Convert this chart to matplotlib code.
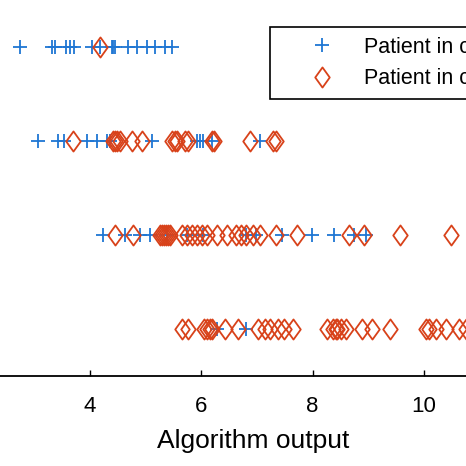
import matplotlib
matplotlib.use("Agg")
import matplotlib.pyplot as plt
from matplotlib.path import Path

plt.rcParams['font.family'] = ['Liberation Sans', 'DejaVu Sans']

# Rows (y levels): 4 = top row ... 1 = bottom row
row4_blue = [2.75, 3.32, 3.37, 3.57, 3.64, 3.71, 4.04, 4.18, 4.39, 4.41, 4.45,
             4.68, 4.84, 5.02, 5.16, 5.34, 5.47]
row4_red = [4.18]

row3_blue = [3.07, 3.43, 3.53, 3.95, 4.13, 4.30, 4.36, 5.11, 5.92, 5.97, 6.03,
             6.19, 7.05]
row3_red = [3.70, 4.41, 4.45, 4.48, 4.54, 4.75, 4.93, 5.47, 5.52, 5.56, 5.70,
            5.76, 6.19, 6.22, 6.87, 7.28, 7.35]

row2_blue = [4.23, 4.63, 4.90, 5.08, 5.38, 5.74, 6.03, 6.81, 6.99, 7.44, 7.98,
             8.39, 8.75, 8.96]
row2_red = [4.45, 4.77, 5.25, 5.29, 5.33, 5.36, 5.40, 5.43, 5.65, 5.74, 5.83,
            5.92, 6.01, 6.10, 6.28, 6.46, 6.63, 6.72, 6.81, 6.92, 7.05, 7.35,
            7.71, 8.66, 8.93, 9.56, 10.49]

row1_blue = [6.29, 6.81]
row1_red = [5.65, 5.76, 6.04, 6.10, 6.15, 6.20, 6.42, 6.65, 7.01, 7.14, 7.23,
            7.37, 7.49, 7.64, 8.25, 8.36, 8.41, 8.44, 8.50, 8.59, 8.89, 9.07,
            9.38, 10.04, 10.09, 10.22, 10.40, 10.63, 10.76]

rows = [4, 3, 2, 1]
blue_data = [row4_blue, row3_blue, row2_blue, row1_blue]
red_data = [row4_red, row3_red, row2_red, row1_red]

x_ticks = [4, 6, 8, 10]
x_label = "Algorithm output"
legend_labels = ["Patient in class 0", "Patient in class 1"]

BLUE = '#1F76D3'
RED = '#D8421A'

diamond = Path([(0, 1), (0.72, 0), (0, -1), (-0.72, 0), (0, 1)],
               [Path.MOVETO, Path.LINETO, Path.LINETO, Path.LINETO, Path.CLOSEPOLY])

fig = plt.figure(figsize=(4.66, 4.66), dpi=100)
ax = fig.add_axes([0.0, 0.193, 1.0, 0.808])

for i, (yv, bx, rx) in enumerate(zip(rows, blue_data, red_data)):
    ax.plot(bx, [yv] * len(bx), linestyle='none', marker='+', markersize=10,
            markeredgewidth=1.3, color=BLUE,
            label=legend_labels[0] if i == 0 else None, zorder=3)
    ax.plot(rx, [yv] * len(rx), linestyle='none', marker=diamond, markersize=14.5,
            markeredgewidth=1.3, markerfacecolor='none', markeredgecolor=RED,
            label=legend_labels[1] if i == 0 else None, zorder=3)

ax.set_xlim(4 - 90 / 55.67, 4 + 376 / 55.67)
ax.set_ylim(0.5, 4.5)
ax.set_xticks(x_ticks)
ax.set_yticks([])
ax.tick_params(axis='x', direction='in', length=4, width=1, labelsize=16, pad=14)
for s in ['top', 'left', 'right']:
    ax.spines[s].set_visible(False)
ax.spines['bottom'].set_linewidth(1.3)
ax.set_xlabel(x_label, fontsize=19)
ax.xaxis.set_label_coords(253 / 466, -0.173)
ax.xaxis.label.set_va('center')

leg = fig.legend(loc='upper left', bbox_to_anchor=(270 / 466, 1 - 27 / 466),
                 bbox_transform=fig.transFigure, fontsize=15.5, frameon=True,
                 fancybox=False, edgecolor='black', framealpha=1,
                 handlelength=3.9, handletextpad=0.0, borderpad=0.45,
                 labelspacing=0.5, borderaxespad=0)
leg.get_frame().set_linewidth(1.2)

fig.savefig('out.png', dpi=100)
